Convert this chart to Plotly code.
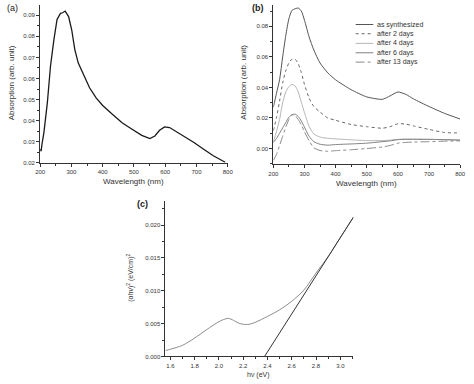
import plotly.graph_objects as go

# ---------- Panel (a) data ----------
wl_a = [200, 203, 206, 212, 223, 233, 244, 254, 265, 272, 280, 291, 301, 311, 322, 338, 358, 379, 400,
        431, 462, 494, 525, 551, 567, 582, 598, 614, 629, 660, 692, 723, 754, 792]
abs_a = [0.0265, 0.0255, 0.029, 0.0343, 0.0485, 0.0658, 0.0784, 0.088, 0.0909, 0.0912, 0.092, 0.0894, 0.083,
         0.0736, 0.0673, 0.0618, 0.0556, 0.0508, 0.0472, 0.043, 0.039, 0.0359, 0.033, 0.0315, 0.0327,
         0.0354, 0.037, 0.0367, 0.0354, 0.0327, 0.0296, 0.0264, 0.0233, 0.0202]

# ---------- Panel (b) data ----------
wl_b = [200, 210, 220, 230, 240, 250, 260, 270, 280, 290, 300, 315, 330, 350, 375, 400,
        450, 500, 550, 575, 600, 625, 650, 700, 750, 800]
as_synth = [0.027, 0.036, 0.045, 0.060, 0.074, 0.085, 0.0905, 0.0915, 0.092, 0.090, 0.084, 0.073, 0.0645,
            0.056, 0.0495, 0.045, 0.0385, 0.0338, 0.0322, 0.0345, 0.037, 0.0355, 0.0325, 0.0275, 0.023, 0.0193]
day2 = [0.0117, 0.020, 0.031, 0.043, 0.051, 0.056, 0.0585, 0.0585, 0.0555, 0.0497, 0.042, 0.033, 0.0275,
        0.0238, 0.020, 0.0185, 0.0157, 0.0143, 0.0133, 0.0143, 0.0162, 0.016, 0.0148, 0.0125, 0.0105, 0.0102]
day4 = [0.0042, 0.011, 0.019, 0.030, 0.037, 0.0405, 0.042, 0.041, 0.037, 0.0302, 0.0235, 0.0145, 0.0095,
        0.0075, 0.0067, 0.0063, 0.0057, 0.0052, 0.0052, 0.0055, 0.006, 0.0062, 0.0062, 0.006, 0.0058, 0.0055]
day6 = [0.004, 0.0065, 0.010, 0.0135, 0.017, 0.0205, 0.0222, 0.0225, 0.021, 0.018, 0.014, 0.008, 0.0045,
        0.0028, 0.0022, 0.0026, 0.003, 0.0035, 0.0045, 0.005, 0.0058, 0.006, 0.006, 0.006, 0.0058, 0.0055]
day13 = [-0.0078, -0.004, 0.002, 0.008, 0.014, 0.019, 0.022, 0.0215, 0.019, 0.0155, 0.011, 0.005, 0.0005,
         -0.0013, -0.0018, -0.0014, -0.0008, 0.0, 0.001, 0.002, 0.0035, 0.004, 0.0042, 0.0045, 0.0048, 0.005]
series_names = ["as synthesized", "after 2 days", "after 4 days", "after 6 days", "after 13 days"]

# ---------- Panel (c) data ----------
hv = [1.56, 1.6, 1.7, 1.8, 1.9, 2.0, 2.05, 2.08, 2.12, 2.16, 2.2, 2.25, 2.3, 2.4, 2.5, 2.6, 2.7, 2.8,
      2.9, 3.0, 3.108]
ahv2 = [0.0009, 0.0011, 0.0017, 0.0028, 0.0041, 0.0053, 0.0057, 0.0058, 0.0055, 0.0051, 0.0049, 0.0049,
        0.0052, 0.0061, 0.0071, 0.0084, 0.0101, 0.0127, 0.0152, 0.0181, 0.0212]
fit_x = [2.376, 3.108]
fit_y = [0.0, 0.0212]

FONT = "Liberation Sans, Arial, sans-serif"
W, H = 474, 384

fig = go.Figure()

fig.add_trace(go.Scatter(x=wl_a, y=abs_a, mode="lines", line=dict(color="#1a1a1a", width=1.3),
                         xaxis="x", yaxis="y", showlegend=False))

styles = [
    dict(color="#555555", width=1.0, dash="solid"),
    dict(color="#666666", width=1.0, dash="dot"),
    dict(color="#b5b5b5", width=1.0, dash="solid"),
    dict(color="#808080", width=1.0, dash="solid"),
    dict(color="#8a8a8a", width=1.0, dash="dashdot"),
]
for name, ys, st in zip(series_names, [as_synth, day2, day4, day6, day13], styles):
    fig.add_trace(go.Scatter(x=wl_b, y=ys, mode="lines", name=name,
                             line=dict(shape="spline", smoothing=0.6, **st),
                             xaxis="x2", yaxis="y2", showlegend=False))

fig.add_trace(go.Scatter(x=hv, y=ahv2, mode="lines", line=dict(color="#8c8c8c", width=1.0, shape="spline", smoothing=0.8),
                         xaxis="x3", yaxis="y3", showlegend=False))
fig.add_trace(go.Scatter(x=fit_x, y=fit_y, mode="lines", line=dict(color="#333333", width=1.0),
                         xaxis="x3", yaxis="y3", showlegend=False))

def px_x(p):
    return p / W

def px_y(p):
    return 1 - p / H

tickfont = dict(family=FONT, size=6, color="#333333")
common = dict(showline=True, linecolor="#333333", linewidth=1, ticks="outside", tickcolor="#333333",
              ticklen=3, tickwidth=1, showgrid=False, zeroline=False, tickfont=tickfont)

fig.update_layout(
    width=W, height=H, margin=dict(l=0, r=0, t=0, b=0),
    paper_bgcolor="white", plot_bgcolor="white",
    font=dict(family=FONT, color="#333333"),
    showlegend=False,
    xaxis=dict(domain=[px_x(36), px_x(228)], range=[200, 800], tick0=200, dtick=100,
               minor=dict(ticks="outside", dtick=50, ticklen=2, tickcolor="#333333"),
               anchor="y", **common),
    yaxis=dict(domain=[px_y(164), px_y(5)], range=[0.02, 0.0949], tick0=0.02, dtick=0.01,
               tickformat=".2f", minor=dict(ticks="outside", dtick=0.005, ticklen=2, tickcolor="#333333"),
               anchor="x", **common),
    xaxis2=dict(domain=[px_x(274.7), px_x(466)], range=[200, 800], tick0=200, dtick=100,
                minor=dict(ticks="outside", dtick=50, ticklen=2, tickcolor="#333333"),
                anchor="y2", **common),
    yaxis2=dict(domain=[px_y(165.7), px_y(5)], range=[-0.0104, 0.094], tick0=0, dtick=0.02,
                tickformat=".2f", minor=dict(ticks="outside", dtick=0.01, ticklen=2, tickcolor="#333333"),
                anchor="x2", **common),
    xaxis3=dict(domain=[px_x(164.3), px_x(356.7)], range=[1.56, 3.108], tick0=1.6, dtick=0.2,
                tickformat=".1f", minor=dict(ticks="outside", dtick=0.1, ticklen=2, tickcolor="#333333"),
                anchor="y3", **common),
    yaxis3=dict(domain=[px_y(359.3), px_y(202.3)], range=[0, 0.0237], tick0=0, dtick=0.005,
                tickformat=".3f", minor=dict(ticks="outside", dtick=0.0025, ticklen=2, tickcolor="#333333"),
                anchor="x3", **common),
)

# manual compact legend for panel (b)
leg_rows = [24.7, 34.0, 43.7, 53.2, 62.6]
for name, st, yy in zip(series_names, styles, leg_rows):
    fig.add_shape(type="line", xref="paper", yref="paper", x0=px_x(359), x1=px_x(377),
                  y0=px_y(yy), y1=px_y(yy), line=dict(color=st["color"], width=1, dash=st["dash"]))
    fig.add_annotation(text=name, xref="paper", yref="paper", x=px_x(379), y=px_y(yy), showarrow=False,
                       xanchor="left", yanchor="middle", font=dict(family=FONT, size=7, color="#333333"))

annots = [
    dict(text="(a)", x=px_x(8), y=px_y(8), font=dict(size=9, color="#222")),
    dict(text="<b>(b)</b>", x=px_x(259), y=px_y(8), font=dict(size=9, color="#222")),
    dict(text="<b>(c)</b>", x=px_x(141), y=px_y(206), font=dict(size=9, color="#222")),
    dict(text="Wavelength (nm)", x=px_x(132), y=px_y(183), font=dict(size=8, color="#333")),
    dict(text="Wavelength (nm)", x=px_x(370), y=px_y(185), font=dict(size=8, color="#333")),
    dict(text="hν (eV)", x=px_x(260), y=px_y(378), font=dict(size=7, color="#333")),
    dict(text="Absorption (arb. unit)", x=px_x(6), y=px_y(83), textangle=-90, font=dict(size=8, color="#333")),
    dict(text="Absorption (arb. unit)", x=px_x(244), y=px_y(83), textangle=-90, font=dict(size=8, color="#333")),
    dict(text="(αhν)<sup>2</sup> (eV/cm)<sup>2</sup>", x=px_x(129), y=px_y(280), textangle=-90,
         font=dict(size=7, color="#333")),
]
for a in annots:
    a.update(xref="paper", yref="paper", showarrow=False, xanchor="center", yanchor="middle")
    a["font"]["family"] = FONT
    fig.add_annotation(**a)

fig.write_html("out.html", config={"displayModeBar": False},
               post_script="document.body.style.margin='0';document.body.style.padding='0';")
